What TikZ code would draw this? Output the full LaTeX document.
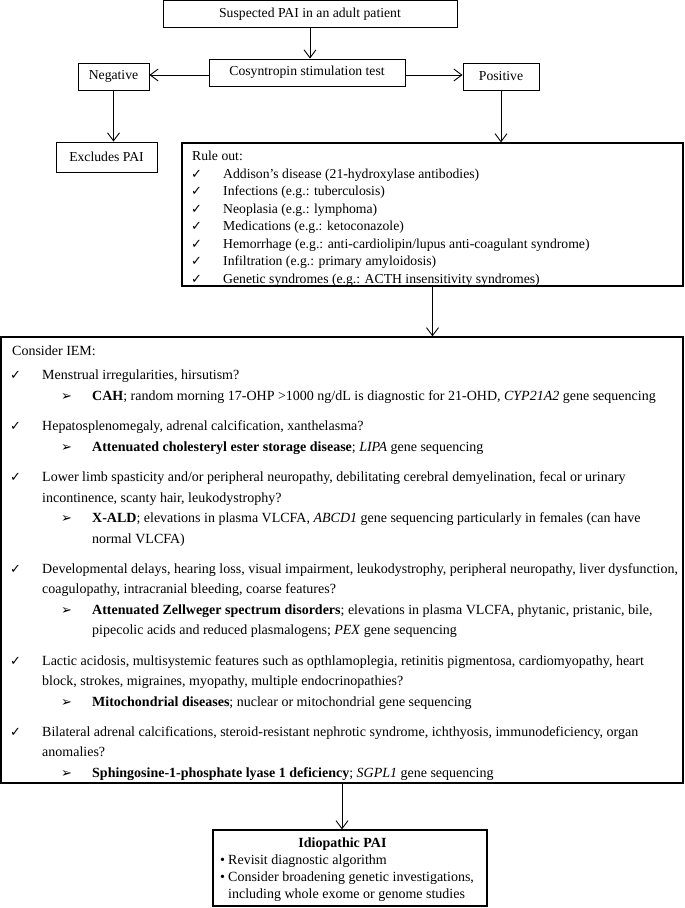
\documentclass[tikz,border=0pt]{standalone}
\usepackage{fontspec}
\setmainfont{Liberation Serif}
\newfontfamily\symfont{DejaVu Sans}
\usetikzlibrary{arrows.meta}

\begin{document}
\begin{tikzpicture}
      [x=1pt,y=-1pt,font=\fontsize{13.7}{16}\selectfont,
       flowbox/.style={draw=black,line width=0.9pt,inner sep=0pt,align=center},
       widebox/.style={flowbox,line width=1.3pt},
       txt/.style={anchor=base west,inner sep=0pt},
       bigtxt/.style={txt,font=\fontsize{14}{16}\selectfont},
       tick/.style={txt,font=\symfont\fontsize{13}{13}\selectfont},
       pointer/.style={txt,font=\symfont\fontsize{13}{13}\selectfont},
       link/.style={-{Straight Barb[length=8pt,width=12pt]},line width=0.9pt}]
      \useasboundingbox (0,0) rectangle (685,908);

      % top of the algorithm
      \node[flowbox,minimum width=294pt,minimum height=27pt] (susp) at (310,14) {Suspected PAI in an adult patient};
      \node[flowbox,minimum width=196pt,minimum height=27pt] (cosy) at (307,72.5) {Cosyntropin stimulation test};
      \node[flowbox,minimum width=71pt,minimum height=27pt] (neg) at (113.5,76.5) {Negative};
      \node[flowbox,minimum width=76pt,minimum height=27pt] (pos) at (501,76.5) {Positive};
      \node[flowbox,minimum width=101pt,minimum height=30pt] (excl) at (106.5,157) {Excludes PAI};

      \draw[link] (susp.south) -- (susp.south |- cosy.north);
      \draw[link] ([yshift=-2.5pt]cosy.west) -- ([yshift=-2.5pt]cosy.west -| neg.east);
      \draw[link] ([yshift=-2.5pt]cosy.east) -- ([yshift=-2.5pt]cosy.east -| pos.west);
      \draw[link] (neg.south) -- (neg.south |- excl.north);

      % rule out
      \node[widebox,minimum width=501pt,minimum height=143pt] (rule) at (432.5,214.5) {};
      \draw[link] (pos.south) -- (pos.south |- rule.north);
      \node[txt] (ro) at (192,160.5) {Rule out:};
      \foreach \i in {1,...,7}
      \node[tick] (rc\i) at (191,{160.5+17.5*\i}) {✓};
      \node[txt] (r1) at (223,178) {Addison’s disease (21-hydroxylase antibodies)};
      \node[txt] (r2) at (223,195.5) {Infections (e.g.: tuberculosis)};
      \node[txt] (r3) at (223,213) {Neoplasia (e.g.: lymphoma)};
      \node[txt] (r4) at (223,230.5) {Medications (e.g.: ketoconazole)};
      \node[txt] (r5) at (223,248) {Hemorrhage (e.g.: anti-cardiolipin/lupus anti-coagulant syndrome)};
      \node[txt] (r6) at (223,265.5) {Infiltration (e.g.: primary amyloidosis)};
      \node[txt] (r7) at (223,283) {Genetic syndromes (e.g.: ACTH insensitivity syndromes)};

      % inborn errors of metabolism
      \node[widebox,minimum width=682pt,minimum height=446pt] (iem) at (342,560) {};
      \draw[link] (rule.south) -- (rule.south |- iem.north);
      \node[bigtxt] (ci) at (12,355.5) {Consider IEM:};
      \foreach \y [count=\i] in {379.5,430.5,481.5,573,665,736}
      \node[tick] (c\i) at (10,\y) {✓};
      \foreach \y [count=\i] in {400.5,451.5,522.5,614,706,777.5}
      \node[pointer] (p\i) at (61,\y) {➢};

      \node[bigtxt] (l1) at (42,379.5) {Menstrual irregularities, hirsutism?};
      \node[bigtxt] (l2) at (92,400.5) {\textbf{CAH}; random morning 17-OHP >1000 ng/dL is diagnostic for 21-OHD, \textit{CYP21A2} gene sequencing};
      \node[bigtxt] (l3) at (42,430.5) {Hepatosplenomegaly, adrenal calcification, xanthelasma?};
      \node[bigtxt] (l4) at (92,451.5) {\textbf{Attenuated cholesteryl ester storage disease}; \textit{LIPA} gene sequencing};
      \node[bigtxt] (l5) at (42,481.5) {Lower limb spasticity and/or peripheral neuropathy, debilitating cerebral demyelination, fecal or urinary};
      \node[bigtxt] (l6) at (42,502) {incontinence, scanty hair, leukodystrophy?};
      \node[bigtxt] (l7) at (92,522.5) {\textbf{X-ALD}; elevations in plasma VLCFA, \textit{ABCD1} gene sequencing particularly in females (can have};
      \node[bigtxt] (l8) at (92,543) {normal VLCFA)};
      \node[bigtxt] (l9) at (42,573) {Developmental delays, hearing loss, visual impairment, leukodystrophy, peripheral neuropathy, liver dysfunction,};
      \node[bigtxt] (l10) at (42,593.5) {coagulopathy, intracranial bleeding, coarse features?};
      \node[bigtxt] (l11) at (92,614) {\textbf{Attenuated Zellweger spectrum disorders}; elevations in plasma VLCFA, phytanic, pristanic, bile,};
      \node[bigtxt] (l12) at (92,634.5) {pipecolic acids and reduced plasmalogens; \textit{PEX} gene sequencing};
      \node[bigtxt] (l13) at (42,665) {Lactic acidosis, multisystemic features such as opthlamoplegia, retinitis pigmentosa, cardiomyopathy, heart};
      \node[bigtxt] (l14) at (42,685.5) {block, strokes, migraines, myopathy, multiple endocrinopathies?};
      \node[bigtxt] (l15) at (92,706) {\textbf{Mitochondrial diseases}; nuclear or mitochondrial gene sequencing};
      \node[bigtxt] (l16) at (42,736) {Bilateral adrenal calcifications, steroid-resistant nephrotic syndrome, ichthyosis, immunodeficiency, organ};
      \node[bigtxt] (l17) at (42,756.5) {anomalies?};
      \node[bigtxt] (l18) at (92,777.5) {\textbf{Sphingosine-1-phosphate lyase 1 deficiency}; \textit{SGPL1} gene sequencing};

      % idiopathic
      \node[widebox,minimum width=274pt,minimum height=76pt] (idio) at (350,868) {};
      \draw[link] (iem.south) -- (iem.south |- idio.north);
      \node[anchor=base,inner sep=0pt,font=\fontsize{14}{16}\selectfont] (it) at (342.5,847.5) {\textbf{Idiopathic PAI}};
      \foreach \y [count=\i] in {864.5,881.5}
      \node[bigtxt] (b\i) at (220,\y) {•};
      \node[bigtxt] (i1) at (228,864.5) {Revisit diagnostic algorithm};
      \node[bigtxt] (i2) at (228,881.5) {Consider broadening genetic investigations,};
      \node[bigtxt] (i3) at (228,898) {including whole exome or genome studies};
\end{tikzpicture}
\end{document}
